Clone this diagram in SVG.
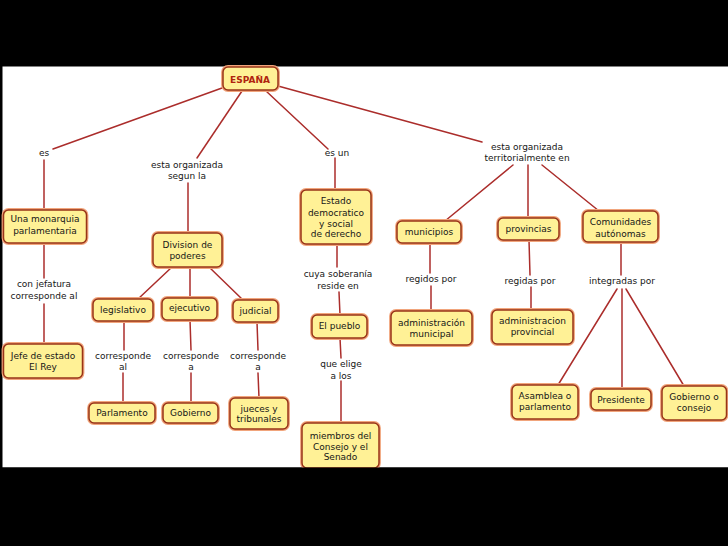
<svg xmlns="http://www.w3.org/2000/svg" width="728" height="546" viewBox="0 0 728 546">
<defs>
<style>
.bx{fill:#fff196;stroke:#983418;stroke-width:1.5}
.hl{fill:none;stroke:#f1a57c;stroke-width:3.8}
.t{font-family:"DejaVu Sans",Verdana,sans-serif;font-size:9px;fill:#161616;text-anchor:middle}
.b{font-weight:bold;fill:#b0240e;font-size:9px}
.c line{stroke:#ab2d2b;stroke-width:1.5;stroke-linecap:round}
</style>
</defs>
<rect width="728" height="546" fill="#000"/>
<rect x="2.5" y="66.5" width="725.5" height="401" fill="#fff"/>
<g class="c" id="connectors">
<line x1="222" y1="88" x2="53" y2="149"/>
<line x1="242" y1="91" x2="197" y2="158"/>
<line x1="266" y1="91" x2="328" y2="149"/>
<line x1="278" y1="86" x2="482" y2="142"/>
<line x1="44" y1="160" x2="44" y2="210"/>
<line x1="188" y1="183" x2="188" y2="233"/>
<line x1="335" y1="158" x2="335" y2="190"/>
<line x1="44" y1="243" x2="44" y2="278"/>
<line x1="44" y1="304" x2="44" y2="344"/>
<line x1="172" y1="267" x2="138" y2="299"/>
<line x1="190" y1="267" x2="190" y2="298"/>
<line x1="209" y1="267" x2="243" y2="300"/>
<line x1="124" y1="321" x2="124" y2="350"/>
<line x1="123" y1="373" x2="123" y2="403"/>
<line x1="190" y1="320" x2="191" y2="350"/>
<line x1="191" y1="373" x2="191" y2="403"/>
<line x1="257" y1="322" x2="258" y2="350"/>
<line x1="258" y1="373" x2="259" y2="398"/>
<line x1="337" y1="244" x2="337" y2="267"/>
<line x1="339" y1="292" x2="340" y2="315"/>
<line x1="340" y1="338" x2="341" y2="358"/>
<line x1="341" y1="381" x2="341" y2="423"/>
<line x1="513" y1="165" x2="445" y2="221"/>
<line x1="528" y1="165" x2="528" y2="218"/>
<line x1="542" y1="165" x2="599" y2="211"/>
<line x1="430" y1="243" x2="430" y2="273"/>
<line x1="431" y1="286" x2="431" y2="311"/>
<line x1="529" y1="240" x2="530" y2="275"/>
<line x1="531" y1="287" x2="531" y2="310"/>
<line x1="621" y1="242" x2="621" y2="275"/>
<line x1="617" y1="289" x2="558" y2="385"/>
<line x1="622" y1="289" x2="622" y2="389"/>
<line x1="626" y1="289" x2="684" y2="386"/>
</g>
<g id="labels">
<text class="t" x="44" y="156.2">es</text>
<text class="t" x="187" y="168.2">esta organizada</text>
<text class="t" x="187" y="179.2">segun la</text>
<text class="t" x="337" y="156.2">es un</text>
<text class="t" x="527" y="150.2">esta organizada</text>
<text class="t" x="527" y="161.2">territorialmente en</text>
<text class="t" x="44" y="287.2">con jefatura</text>
<text class="t" x="44" y="299.2">corresponde al</text>
<text class="t" x="123" y="359.2">corresponde</text>
<text class="t" x="123" y="370.2">al</text>
<text class="t" x="191" y="359.2">corresponde</text>
<text class="t" x="191" y="370.2">a</text>
<text class="t" x="258" y="359.2">corresponde</text>
<text class="t" x="258" y="370.2">a</text>
<text class="t" x="338" y="277.2">cuya soberanía</text>
<text class="t" x="338" y="289.2">reside en</text>
<text class="t" x="341" y="367.2">que elige</text>
<text class="t" x="341" y="379.2">a los</text>
<text class="t" x="431" y="282.2">regidos por</text>
<text class="t" x="530" y="284.2">regidas por</text>
<text class="t" x="622" y="284.2">integradas por</text>
</g>
<g id="espana"><rect class="hl" x="223" y="67" width="55" height="23" rx="5"/><rect class="bx" x="223" y="67" width="55" height="23" rx="5"/><text class="t b" x="250" y="82.5">ESPAÑA</text></g>
<g id="monarquia"><rect class="hl" x="3.5" y="210" width="83" height="33" rx="5"/><rect class="bx" x="3.5" y="210" width="83" height="33" rx="5"/><text class="t" x="45" y="222.2">Una monarquia</text><text class="t" x="45" y="234.2">parlamentaria</text></g>
<g id="division"><rect class="hl" x="153" y="233" width="69" height="34" rx="5"/><rect class="bx" x="153" y="233" width="69" height="34" rx="5"/><text class="t" x="187.5" y="248.2">Division de</text><text class="t" x="187.5" y="259.2">poderes</text></g>
<g id="estado"><rect class="hl" x="301" y="190" width="70" height="54" rx="5"/><rect class="bx" x="301" y="190" width="70" height="54" rx="5"/><text class="t" x="336" y="203.9">Estado</text><text class="t" x="336" y="215.5">democratico</text><text class="t" x="336" y="226.5">y social</text><text class="t" x="336" y="237.2">de derecho</text></g>
<g id="municipios"><rect class="hl" x="397" y="221" width="64" height="22" rx="5"/><rect class="bx" x="397" y="221" width="64" height="22" rx="5"/><text class="t" x="429" y="234.9">municipios</text></g>
<g id="provincias"><rect class="hl" x="498" y="218" width="61" height="22" rx="5"/><rect class="bx" x="498" y="218" width="61" height="22" rx="5"/><text class="t" x="528.5" y="231.5">provincias</text></g>
<g id="comunidades"><rect class="hl" x="583" y="211" width="75" height="31" rx="5"/><rect class="bx" x="583" y="211" width="75" height="31" rx="5"/><text class="t" x="620.5" y="224.9">Comunidades</text><text class="t" x="620.5" y="236.5">autónomas</text></g>
<g id="jefe"><rect class="hl" x="3.5" y="344" width="79" height="34" rx="5"/><rect class="bx" x="3.5" y="344" width="79" height="34" rx="5"/><text class="t" x="43" y="359.2">Jefe de estado</text><text class="t" x="43" y="370.2">El Rey</text></g>
<g id="legislativo"><rect class="hl" x="93" y="299" width="60" height="22" rx="5"/><rect class="bx" x="93" y="299" width="60" height="22" rx="5"/><text class="t" x="123" y="312.5">legislativo</text></g>
<g id="ejecutivo"><rect class="hl" x="162" y="298" width="55" height="22" rx="5"/><rect class="bx" x="162" y="298" width="55" height="22" rx="5"/><text class="t" x="189.5" y="310.5">ejecutivo</text></g>
<g id="judicial"><rect class="hl" x="233" y="300" width="45" height="22" rx="5"/><rect class="bx" x="233" y="300" width="45" height="22" rx="5"/><text class="t" x="255.5" y="313.9">judicial</text></g>
<g id="parlamento"><rect class="hl" x="89" y="403" width="66" height="20" rx="5"/><rect class="bx" x="89" y="403" width="66" height="20" rx="5"/><text class="t" x="122" y="415.9">Parlamento</text></g>
<g id="gobierno"><rect class="hl" x="163" y="403" width="55" height="20" rx="5"/><rect class="bx" x="163" y="403" width="55" height="20" rx="5"/><text class="t" x="190.5" y="415.9">Gobierno</text></g>
<g id="jueces"><rect class="hl" x="230" y="398" width="58" height="31" rx="5"/><rect class="bx" x="230" y="398" width="58" height="31" rx="5"/><text class="t" x="259" y="411.5">jueces y</text><text class="t" x="259" y="421.9">tribunales</text></g>
<g id="pueblo"><rect class="hl" x="312" y="315" width="55" height="23" rx="5"/><rect class="bx" x="312" y="315" width="55" height="23" rx="5"/><text class="t" x="339.5" y="328.9">El pueblo</text></g>
<g id="miembros"><rect class="hl" x="302" y="423" width="77" height="45" rx="5"/><rect class="bx" x="302" y="423" width="77" height="45" rx="5"/><text class="t" x="340.5" y="439.2">miembros del</text><text class="t" x="340.5" y="450.2">Consejo y el</text><text class="t" x="340.5" y="460.2">Senado</text></g>
<g id="admin-municipal"><rect class="hl" x="391" y="311" width="81" height="34" rx="5"/><rect class="bx" x="391" y="311" width="81" height="34" rx="5"/><text class="t" x="431.5" y="325.9">administración</text><text class="t" x="431.5" y="336.5">municipal</text></g>
<g id="admin-provincial"><rect class="hl" x="492" y="310" width="81" height="34" rx="5"/><rect class="bx" x="492" y="310" width="81" height="34" rx="5"/><text class="t" x="532.5" y="323.9">administracion</text><text class="t" x="532.5" y="334.9">provincial</text></g>
<g id="asamblea"><rect class="hl" x="512" y="385" width="66" height="34" rx="5"/><rect class="bx" x="512" y="385" width="66" height="34" rx="5"/><text class="t" x="545" y="399.2">Asamblea o</text><text class="t" x="545" y="409.9">parlamento</text></g>
<g id="presidente"><rect class="hl" x="591" y="389" width="60" height="21" rx="5"/><rect class="bx" x="591" y="389" width="60" height="21" rx="5"/><text class="t" x="621" y="402.5">Presidente</text></g>
<g id="gobierno-consejo"><rect class="hl" x="662" y="386" width="64.5" height="34" rx="5"/><rect class="bx" x="662" y="386" width="64.5" height="34" rx="5"/><text class="t" x="694" y="399.9">Gobierno o</text><text class="t" x="694" y="410.5">consejo</text></g>
<rect x="0" y="467.5" width="728" height="78.5" fill="#000"/>
</svg>
